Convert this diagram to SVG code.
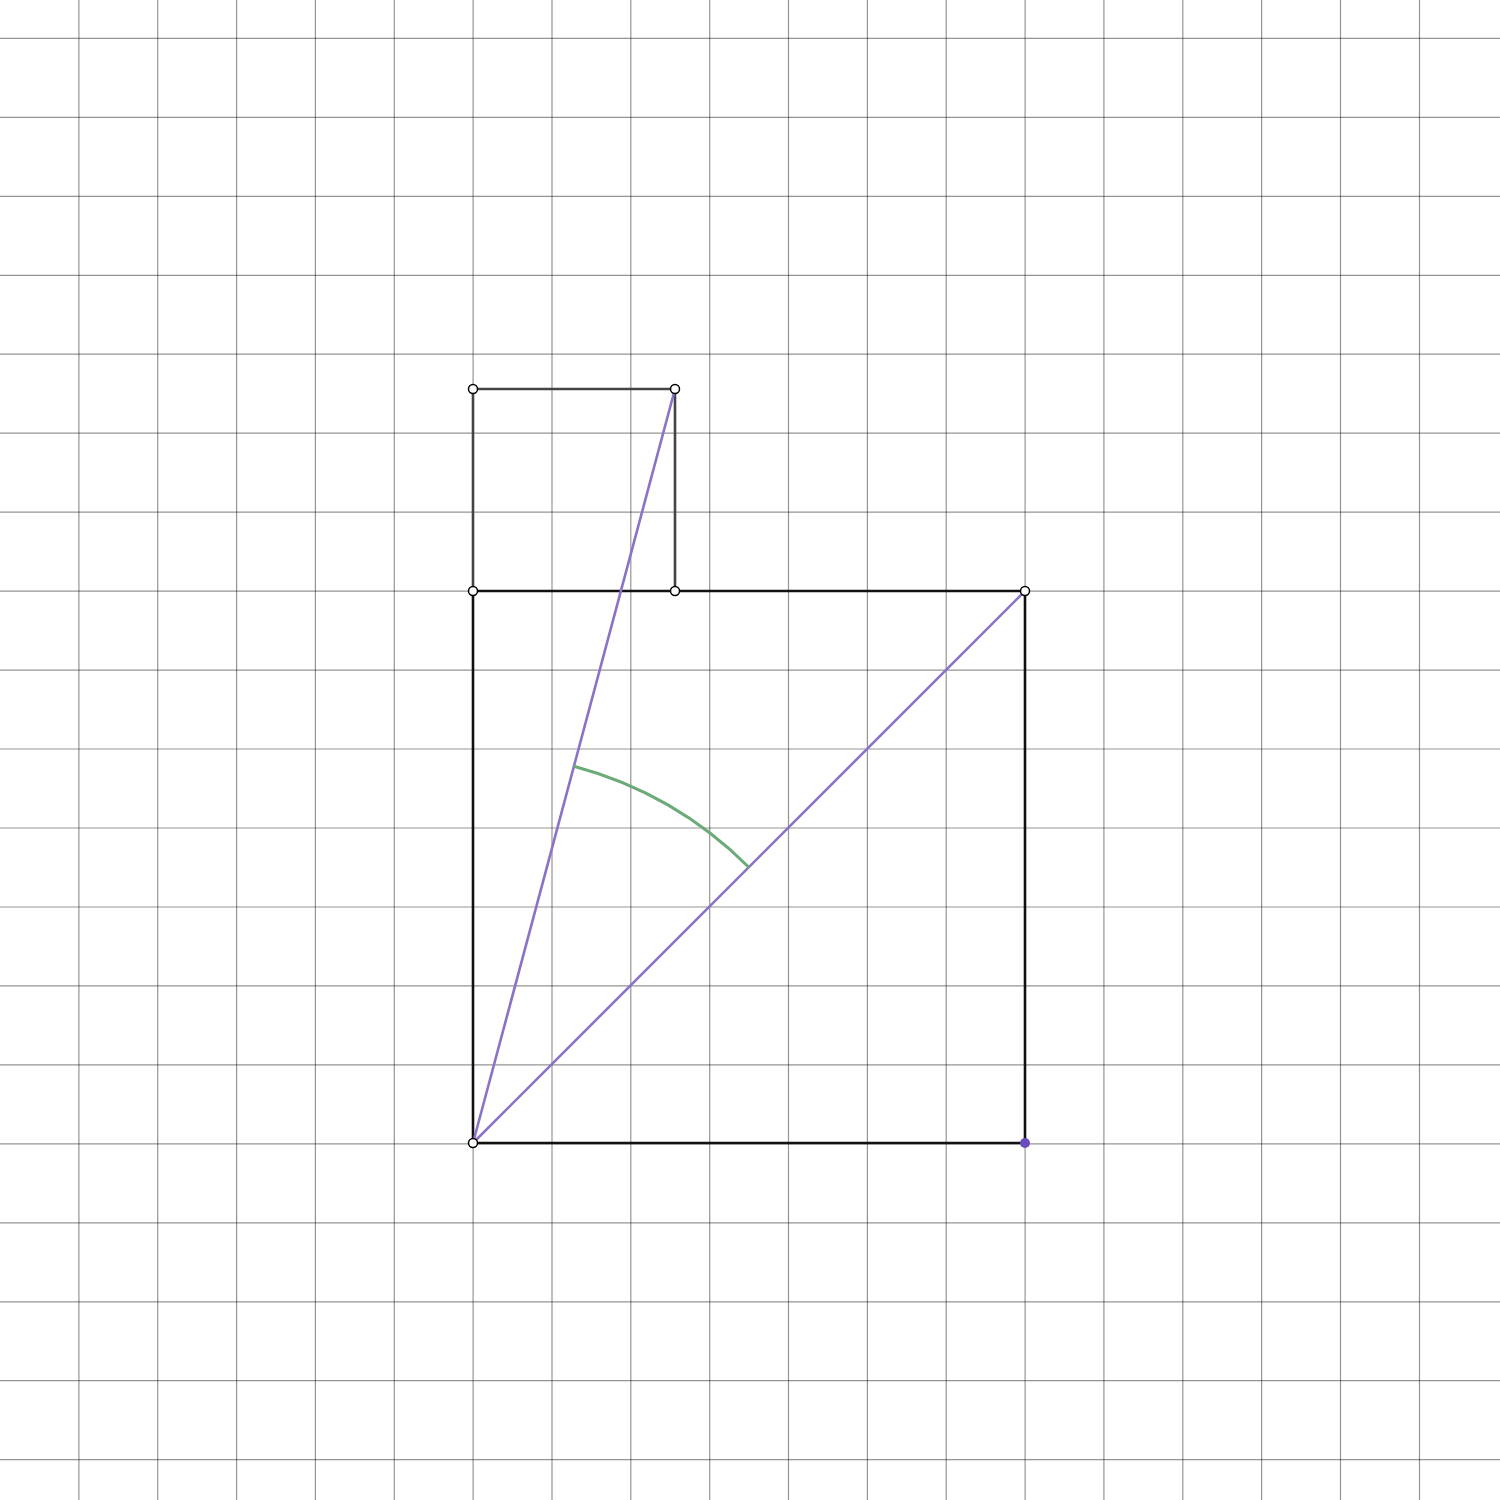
<svg xmlns="http://www.w3.org/2000/svg" width="1500" height="1500" viewBox="0 0 1500 1500">
<style>
.grid line{stroke:#000;stroke-opacity:0.42;stroke-width:1.2}
.edge{stroke:#111;stroke-width:2.6;fill:none;stroke-linecap:round}
.edge2{stroke:#444;stroke-width:2.6;fill:none;stroke-linecap:round}
.diag{stroke:#8a72c8;stroke-width:2.6;fill:none;stroke-linecap:round}
.arc{stroke:#6aab78;stroke-width:3;fill:none}
.pt{fill:#fff;stroke:#000;stroke-width:1.5}
</style>
<rect width="1500" height="1500" fill="#fff"/>
<g class="grid" id="grid">
<line x1="78.9" y1="0" x2="78.9" y2="1500"/>
<line x1="157.7" y1="0" x2="157.7" y2="1500"/>
<line x1="236.6" y1="0" x2="236.6" y2="1500"/>
<line x1="315.4" y1="0" x2="315.4" y2="1500"/>
<line x1="394.3" y1="0" x2="394.3" y2="1500"/>
<line x1="473.1" y1="0" x2="473.1" y2="1500"/>
<line x1="552" y1="0" x2="552" y2="1500"/>
<line x1="630.8" y1="0" x2="630.8" y2="1500"/>
<line x1="709.7" y1="0" x2="709.7" y2="1500"/>
<line x1="788.5" y1="0" x2="788.5" y2="1500"/>
<line x1="867.4" y1="0" x2="867.4" y2="1500"/>
<line x1="946.2" y1="0" x2="946.2" y2="1500"/>
<line x1="1025.1" y1="0" x2="1025.1" y2="1500"/>
<line x1="1103.9" y1="0" x2="1103.9" y2="1500"/>
<line x1="1182.8" y1="0" x2="1182.8" y2="1500"/>
<line x1="1261.6" y1="0" x2="1261.6" y2="1500"/>
<line x1="1340.5" y1="0" x2="1340.5" y2="1500"/>
<line x1="1419.5" y1="0" x2="1419.5" y2="1500"/>
<line x1="0" y1="38.4" x2="1500" y2="38.4"/>
<line x1="0" y1="117.4" x2="1500" y2="117.4"/>
<line x1="0" y1="196.3" x2="1500" y2="196.3"/>
<line x1="0" y1="275.3" x2="1500" y2="275.3"/>
<line x1="0" y1="354.2" x2="1500" y2="354.2"/>
<line x1="0" y1="433.2" x2="1500" y2="433.2"/>
<line x1="0" y1="512.2" x2="1500" y2="512.2"/>
<line x1="0" y1="591.1" x2="1500" y2="591.1"/>
<line x1="0" y1="670.1" x2="1500" y2="670.1"/>
<line x1="0" y1="749" x2="1500" y2="749"/>
<line x1="0" y1="828" x2="1500" y2="828"/>
<line x1="0" y1="907" x2="1500" y2="907"/>
<line x1="0" y1="985.9" x2="1500" y2="985.9"/>
<line x1="0" y1="1064.9" x2="1500" y2="1064.9"/>
<line x1="0" y1="1143.8" x2="1500" y2="1143.8"/>
<line x1="0" y1="1222.8" x2="1500" y2="1222.8"/>
<line x1="0" y1="1301.8" x2="1500" y2="1301.8"/>
<line x1="0" y1="1380.7" x2="1500" y2="1380.7"/>
<line x1="0" y1="1459.7" x2="1500" y2="1459.7"/>
</g>
<g id="connectors">
<polyline class="edge2" points="473,591 473,389 675,389 675,591"/>
<polyline class="edge" points="473,591 1025,591 1025,1143 473,1143 473,591"/>
<line class="diag" x1="473" y1="1143" x2="675" y2="389"/>
<line class="diag" x1="473" y1="1143" x2="1025" y2="591"/>
<path class="arc" d="M573.9,766.3 A390,390 0 0 1 748.8,867.2"/>
</g>
<g id="p1"><circle class="pt" cx="473" cy="389" r="4.5"/></g>
<g id="p2"><circle class="pt" cx="675" cy="389" r="4.5"/></g>
<g id="p3"><circle class="pt" cx="473" cy="591" r="4.5"/></g>
<g id="p4"><circle class="pt" cx="675" cy="591" r="4.5"/></g>
<g id="p5"><circle class="pt" cx="1025" cy="591" r="4.5"/></g>
<g id="p6"><circle class="pt" cx="473" cy="1143" r="4.5"/></g>
<g id="p7"><circle cx="1025" cy="1143" r="5" fill="#6a4cc0"/></g>
</svg>
